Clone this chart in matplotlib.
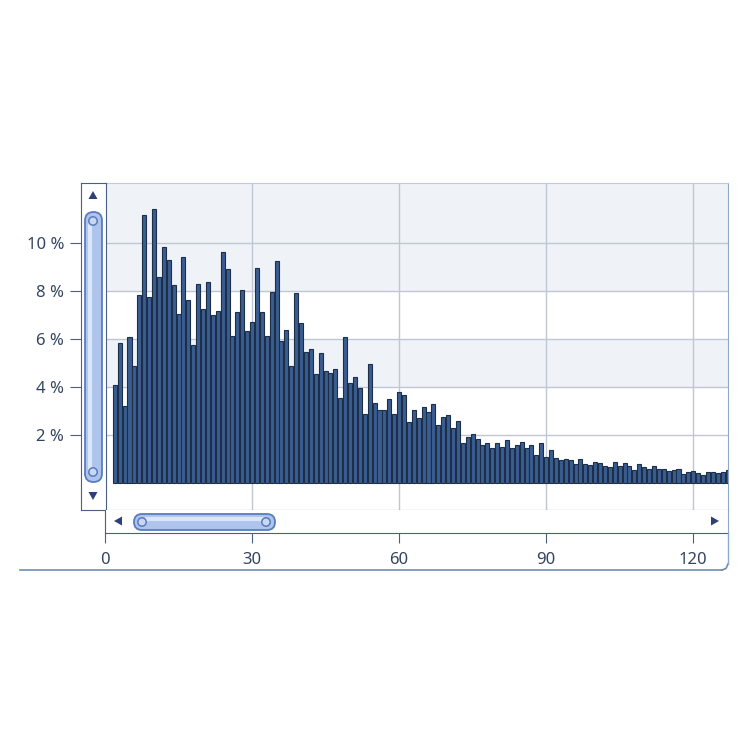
import matplotlib
matplotlib.use("Agg")
import matplotlib.pyplot as plt
from matplotlib.patches import FancyBboxPatch, Polygon, Circle
from matplotlib.lines import Line2D

plt.rcParams["font.family"] = ["Noto Sans", "DejaVu Sans"]

# bar values, one per x position (percent)
x_vals = list(range(2, 128))
pct = [4.08, 5.83, 3.22, 6.08, 4.88, 7.83, 11.17, 7.76, 11.4,
       8.57, 9.82, 9.29, 8.24, 7.04, 9.43, 7.63, 5.75, 8.31, 7.25,
       8.38, 7.0, 7.18, 9.64, 8.9, 6.14, 7.11, 8.04, 6.33, 6.72,
       8.97, 7.11, 6.14, 7.97, 9.24, 5.93, 6.38, 4.88, 7.90, 6.65,
       5.47, 5.58, 4.54, 5.40, 4.67, 4.60, 4.74, 3.53, 6.07, 4.15,
       4.40, 3.94, 2.88, 4.96, 3.35, 3.04, 3.04, 3.5, 2.88, 3.78,
       3.67, 2.56, 3.04, 2.69, 3.15, 2.97, 3.29, 2.42, 2.76, 2.83,
       2.30, 2.58, 1.65, 1.90, 2.03, 1.83, 1.58, 1.65, 1.44, 1.65,
       1.51, 1.79, 1.44, 1.58, 1.69, 1.44, 1.58, 1.17, 1.65, 1.10,
       1.38, 1.03, 0.96, 0.99, 0.96, 0.79, 0.99, 0.79, 0.75, 0.88,
       0.85, 0.69, 0.67, 0.88, 0.69, 0.82, 0.69, 0.54, 0.79, 0.65,
       0.57, 0.69, 0.58, 0.58, 0.50, 0.54, 0.58, 0.38, 0.44, 0.50,
       0.40, 0.33, 0.44, 0.47, 0.40, 0.47, 0.54]

y_ticks = [2, 4, 6, 8, 10]
y_labels = ["2 %", "4 %", "6 %", "8 %", "10 %"]
x_ticks = [0, 30, 60, 90, 120]

W = 750.0


def fx(px):
    return px / W


def fy(py):
    return 1 - py / W


frame = "#4a6080"
light = "#8fa8c8"
txt = "#34445f"

fig = plt.figure(figsize=(7.5, 7.5), dpi=100)
fig.patch.set_facecolor("white")

XLIM = (0, 127.1)
YLIM = (-1.125, 12.5)

# main plot
ax = fig.add_axes([fx(105), fy(510), fx(728) - fx(105), fy(183) - fy(510)])
ax.set_xlim(*XLIM)
ax.set_ylim(*YLIM)
ax.axhspan(4, 6, color="#eff2f7", zorder=0, lw=0)
ax.axhspan(8, 12.5, color="#eff2f7", zorder=0, lw=0)
for g in [2, 4, 6, 8, 10]:
    ax.axhline(g, color="#bfc6d4", lw=1, zorder=1)
for g in [30, 60, 90, 120]:
    ax.axvline(g, color="#bfc6d4", lw=1, zorder=1)
ax.bar(x_vals, pct, width=0.82, color="#3a5d90", edgecolor="#1d2e48",
       linewidth=0.8, zorder=3)
ax.set_xticks([])
ax.set_yticks([])
ax.spines["top"].set_color("#c3c9d6")
ax.spines["right"].set_color(light)
ax.spines["left"].set_color(frame)
ax.spines["bottom"].set_color(frame)

# vertical scrollbar with y labels
vax = fig.add_axes([fx(81), fy(510), fx(106) - fx(81), fy(183) - fy(510)])
vax.set_ylim(*YLIM)
vax.set_xticks([])
vax.set_yticks(y_ticks)
vax.set_yticklabels(y_labels, fontsize=12, color=txt)
vax.tick_params(axis="y", length=8, color=frame, pad=4)
for s in vax.spines.values():
    s.set_color(frame)

# horizontal scrollbar with x labels
hax = fig.add_axes([fx(105), fy(533), fx(728) - fx(105), fy(510) - fy(533)])
hax.set_xlim(*XLIM)
hax.set_yticks([])
hax.set_xticks(x_ticks)
hax.set_xticklabels([str(t) for t in x_ticks], fontsize=12, color=txt)
hax.tick_params(axis="x", length=7, color=frame, pad=7)
hax.spines["top"].set_visible(False)
hax.spines["left"].set_color(frame)
hax.spines["bottom"].set_color(frame)
hax.spines["right"].set_color(light)


def thumb(x0, y0, x1, y1, vertical):
    r = min(x1 - x0, y1 - y0) / 2.0
    p = FancyBboxPatch((fx(x0) + r / W, fy(y1) + r / W),
                       (x1 - x0 - 2 * r) / W, (y1 - y0 - 2 * r) / W,
                       boxstyle="round,pad=%f" % (r / W),
                       transform=fig.transFigure, facecolor="#aec4ec",
                       edgecolor="#5a7cbd", lw=1.3, zorder=5)
    fig.add_artist(p)
    # lighter highlight band
    if vertical:
        xs = [fx(x0 + 5), fx(x0 + 5)]
        ys = [fy(y0 + 12), fy(y1 - 12)]
    else:
        xs = [fx(x0 + 12), fx(x1 - 12)]
        ys = [fy(y0 + 5), fy(y0 + 5)]
    fig.add_artist(Line2D(xs, ys, transform=fig.transFigure,
                          color="#dbe6f8", lw=3, zorder=5.5,
                          solid_capstyle="round"))


def dot(px, py):
    fig.add_artist(Circle((fx(px), fy(py)), 4.2 / W, transform=fig.transFigure,
                          facecolor="#c9d8f2", edgecolor="#5a7cbd", lw=1.1,
                          zorder=6))


def tri(pts):
    fig.add_artist(Polygon([(fx(a), fy(b)) for a, b in pts], closed=True,
                           transform=fig.transFigure, facecolor="#2e3f7c",
                           edgecolor="none", zorder=6))


thumb(85, 212, 102, 482, True)
dot(93, 221)
dot(93, 472)
thumb(134, 514, 275, 530, False)
dot(142, 522)
dot(266, 522)

tri([(88.5, 199), (97.5, 199), (93, 191)])
tri([(88.5, 492), (97.5, 492), (93, 500)])
tri([(122, 516.5), (122, 525.5), (114, 521)])
tri([(711, 516.5), (711, 525.5), (719, 521)])

# outer frame lines
fig.add_artist(Line2D([fx(20), fx(722)], [fy(570), fy(570)],
                      transform=fig.transFigure, color="#6f8db3", lw=1.2))
fig.add_artist(Line2D([fx(722), fx(726), fx(728)], [fy(570), fy(568.5), fy(564)],
                      transform=fig.transFigure, color="#6f8db3", lw=1.2))
fig.add_artist(Line2D([fx(728), fx(728)], [fy(533), fy(564)],
                      transform=fig.transFigure, color=light, lw=1.0))

fig.savefig("out.png", dpi=100)
